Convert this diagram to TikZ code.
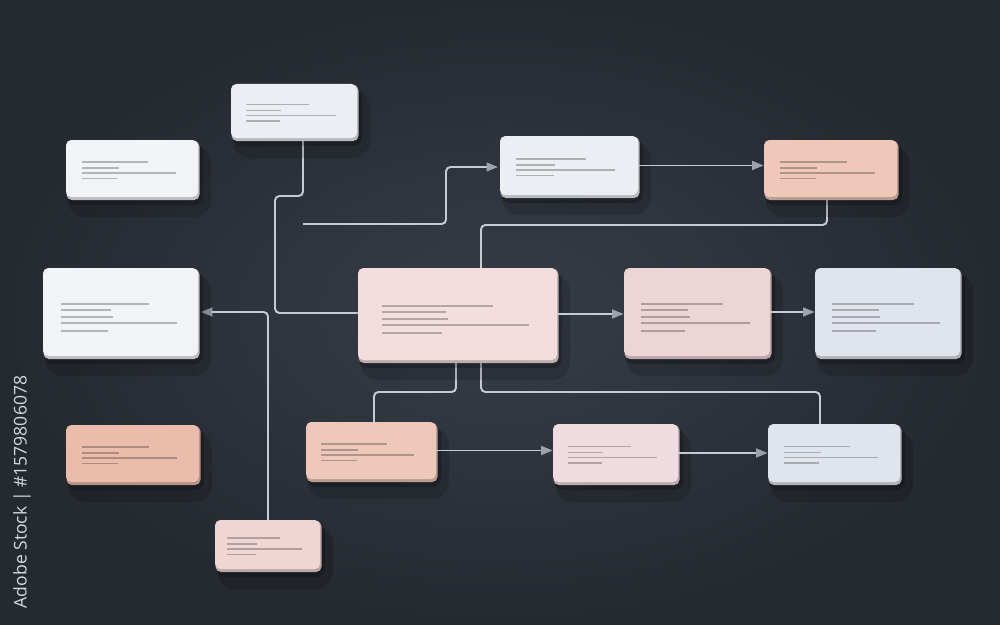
\documentclass[tikz,border=0pt]{standalone}
\usepackage{fontspec}
\newfontfamily\wmfont{Open Sans}
\usetikzlibrary{calc,arrows.meta}
\definecolor{bgin}{HTML}{373D48}
\definecolor{bgout}{HTML}{252930}
\definecolor{connc}{HTML}{C6CAD2}
\definecolor{arrc}{HTML}{9CA2AE}
\definecolor{cwhite}{HTML}{F2F3F7}
\definecolor{cwhiteb}{HTML}{ECEEF3}
\definecolor{cpeach}{HTML}{F0C8BA}
\definecolor{cpeachd}{HTML}{EBBCAC}
\definecolor{cpeachj}{HTML}{EEC8BA}
\definecolor{cpink}{HTML}{F3DEDD}
\definecolor{cpinkg}{HTML}{EDD5D5}
\definecolor{cpinkk}{HTML}{F0DCE0}
\definecolor{cpinkm}{HTML}{EFD6D5}
\definecolor{cblue}{HTML}{E0E5ED}
\definecolor{wmtext}{HTML}{D5D9E0}
\tikzset{
  conn/.style={draw=connc, line width=1.1pt, rounded corners=2.5pt},
  arr/.style={-{Triangle[length=6.5pt,width=5pt,color=arrc]}},
  phline/.style={draw=black, opacity=0.26, line width=1.05pt},
  box/.style={rounded corners=3pt, inner sep=0pt, draw=none}
}
\newcommand\bx[6]{%
  \fill[black, opacity=0.14, rounded corners=10pt] (#2+2,#3+6) rectangle (#4+13,#5+20);
  \fill[black, opacity=0.22, rounded corners=5pt] (#2+1,#3+3) rectangle (#4+5,#5+8);
  \fill[#6!78!black, rounded corners=3pt] (#2+0.5,#3+1) rectangle (#4+1.5,#5+3);
  \node[box, fill=#6, minimum width={(#4-#2)*0.02cm}, minimum height={(#5-#3)*0.02cm}] (#1) at ({(#2+#4)/2},{(#3+#5)/2}) {};
}
\newcommand\phs[1]{%
  \foreach \e/\dy in {0.62/-6.5,0.40/-0.5,0.83/4.5,0.39/10}
    \draw[phline] ($(#1.west)!0.12!(#1.east)+(0,\dy)$) -- ($(#1.west)!\e!(#1.east)+(0,\dy)$);
}
\newcommand\phb[1]{%
  \foreach \e/\dy in {0.68/-8,0.44/-2,0.45/4.7,0.86/11.3,0.42/19}
    \draw[phline] ($(#1.west)!0.12!(#1.east)+(0,\dy)$) -- ($(#1.west)!\e!(#1.east)+(0,\dy)$);
}
\begin{document}
\begin{tikzpicture}[x=0.02cm,y=-0.02cm]
\useasboundingbox (0,0) rectangle (1000,625);
\shade[inner color=bgin, outer color=bgout] (0,0) rectangle (1000,625);

% connectors (drawn first, boxes on top)
\coordinate (s1) at (303,224);
\coordinate (bj) at (303,138);
\draw[conn, arr] (bj) |- (275,196) |- (420,313) -- (356,313);
\draw[conn, arr] (s1) -- (446,224) |- (498,167);
\draw[conn] (827,197) |- (481,225) -- (481,268);
\draw[conn, arr] (268,520) |- (201,312);
\draw[conn] (456,360) |- (374,392) -- (374,422);
\draw[conn] (481,360) |- (820,392) -- (820,424);

% boxes
\bx{b}{231}{84}{357}{138}{cwhiteb}
\bx{a}{66}{140}{198}{197}{cwhite}
\bx{c}{500}{136}{638}{195}{cwhiteb}
\bx{d}{764}{140}{897}{197}{cpeach}
\bx{e}{43}{268}{198}{356}{cwhite}
\bx{f}{358}{268}{557}{360}{cpink}
\bx{g}{624}{268}{770}{356}{cpinkg}
\bx{h}{815}{268}{960}{356}{cblue}
\bx{i}{66}{425}{199}{482}{cpeachd}
\bx{j}{306}{422}{436}{479}{cpeachj}
\bx{k}{553}{424}{678}{482}{cpinkk}
\bx{l}{768}{424}{900}{482}{cblue}
\bx{m}{215}{520}{320}{569}{cpinkm}

% straight arrows between boxes
\draw[conn, arr] (c.east) -- (c.east -| d.west);
\draw[conn, arr] (f.east) -- (f.east -| g.west);
\draw[conn, arr] (g.east) -- (g.east -| h.west);
\draw[conn, arr] (j.east) -- (j.east -| k.west);
\draw[conn, arr] (k.east) -- (k.east -| l.west);

% placeholder text lines
\phs{a}\phs{b}\phs{c}\phs{d}\phs{i}\phs{j}\phs{k}\phs{l}\phs{m}
\phb{e}\phb{f}\phb{g}\phb{h}

% stock line
\node[rotate=90, text=wmtext, font=\wmfont\fontsize{10}{12}\selectfont, inner sep=0pt] (wm) at (22,492) {Adobe Stock | \#1579806078};
\end{tikzpicture}
\end{document}
